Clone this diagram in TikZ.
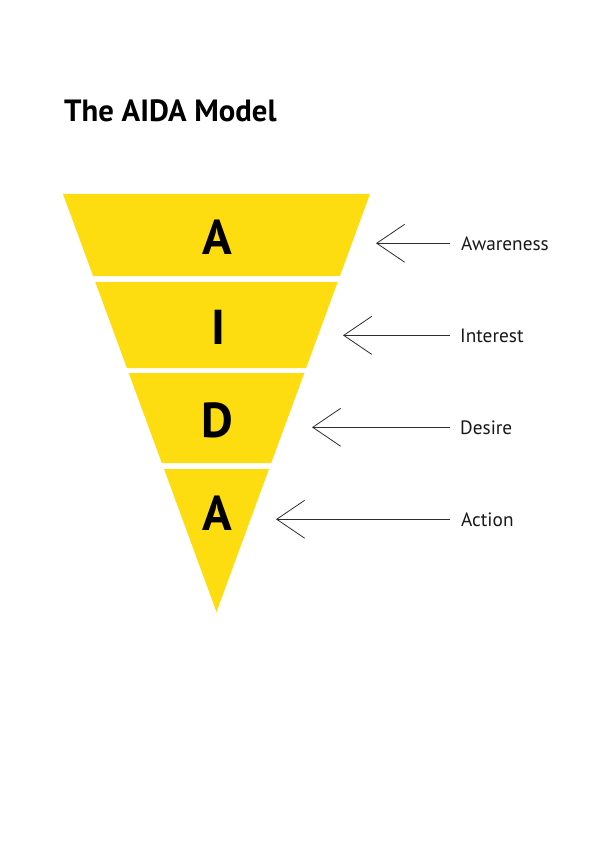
\documentclass[tikz,border=0pt]{standalone}
\usepackage{fontspec}
\setmainfont{PT Sans}
\usetikzlibrary{arrows.meta}
\definecolor{aidayellow}{RGB}{253,221,16}
\definecolor{arrowgrey}{RGB}{45,45,45}
\tikzset{
  band/.style={fill=aidayellow, draw=none},
  letter/.style={font=\fontsize{49}{49}\selectfont\bfseries, text=black, inner sep=0pt},
  stagelabel/.style={font=\fontsize{19.3}{19.3}\selectfont, text=black!90, inner sep=0pt, anchor=base west},
  pointer/.style={draw=arrowgrey, line width=0.8pt, -{Straight Barb[length=28pt,width=38pt,line width=0.8pt]}},
}
\begin{document}
\begin{tikzpicture}[x=1pt,y=-1pt]
\useasboundingbox (0,0) rectangle (595,842);
\fill[white] (0,0) rectangle (595,842);
% title
\node[font=\fontsize{30.7}{30.7}\selectfont\bfseries, anchor=base west, inner sep=0pt] (title) at (64,122) {The AIDA Model};
% funnel bands
\fill[band] (63,194) -- (370,194) -- (339.9,276) -- (93.1,276) -- cycle;
\fill[band] (95.3,282) -- (337.7,282) -- (306.1,368) -- (126.9,368) -- cycle;
\fill[band] (128.7,373) -- (304.3,373) -- (271.2,463) -- (161.8,463) -- cycle;
\fill[band] (164,469) -- (269,469) -- (216.5,612) -- cycle;
% letters
\node[letter] (l1) at (217,237) {A};
\node[letter] (l2) at (218,327) {I};
\node[letter] (l3) at (217,420) {D};
\node[letter] (l4) at (217,513) {A};
% labels
\node[stagelabel] (s1) at (461,250) {Awareness};
\node[stagelabel] (s2) at (460,342) {Interest};
\node[stagelabel] (s3) at (460,434) {Desire};
\node[stagelabel] (s4) at (461,526) {Action};
% arrow tips
\coordinate (t1) at (376,243);
\coordinate (t2) at (343,336);
\coordinate (t3) at (312,428);
\coordinate (t4) at (276,519);
% arrows
\draw[pointer] ([xshift=-11pt]s1.west) -- (s1.west -| t1);
\draw[pointer] ([xshift=-10pt]s2.west) -- (s2.west -| t2);
\draw[pointer] ([xshift=-10pt]s3.west) -- (s3.west -| t3);
\draw[pointer] ([xshift=-11pt]s4.west) -- (s4.west -| t4);
\end{tikzpicture}
\end{document}
